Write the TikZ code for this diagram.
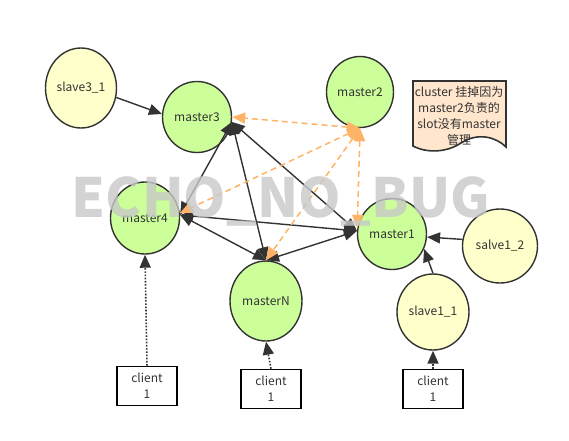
\documentclass[tikz,border=0pt]{standalone}
\usepackage{fontspec}
\setmainfont{Noto Sans CJK SC}
\usetikzlibrary{shapes.geometric,arrows.meta}
\definecolor{mgreen}{HTML}{CCFF99}
\definecolor{syellow}{HTML}{FFFFCC}
\definecolor{notefill}{HTML}{FFE6CC}
\definecolor{linegray}{HTML}{333333}
\definecolor{failorange}{HTML}{FFB366}
\definecolor{markgray}{HTML}{C8C8C8}

\begin{document}
\begin{tikzpicture}[x=1pt,y=-1pt,font=\fontsize{12}{14}\selectfont,
  head/.tip={Triangle[length=13pt,width=11pt]},
  master/.style={ellipse,draw=linegray,line width=1.4pt,fill=mgreen,minimum width=69pt,minimum height=71pt,inner sep=0pt,text=linegray},
  slave/.style={master,fill=syellow},
  client/.style={rectangle,draw=black,line width=1.6pt,fill=white,minimum width=60pt,minimum height=39pt,align=center,inner sep=0pt,font=\fontsize{12}{16}\selectfont,text=linegray},
  link/.style={head-head,draw=linegray,line width=1.4pt},
  fail/.style={head-head,draw=failorange,line width=1.5pt,dash pattern=on 6pt off 4pt},
  feed/.style={-head,draw=linegray,line width=1.4pt},
  req/.style={-head,draw=linegray,line width=1.6pt,dash pattern=on 1.6pt off 1.6pt}]
\useasboundingbox (0,0) rectangle (569,440);
% nodes
\node[slave,minimum width=71pt,minimum height=80pt] (s31) at (81,88) {slave3\_1};
\node[master] (m3) at (197,117) {master3};
\node[master,minimum width=67pt] (m2) at (360,92) {master2};
\node[master,minimum height=72pt] (m4) at (145,218) {master4};
\node[master] (m1) at (392,234) {master1};
\node[slave,minimum width=75pt,minimum height=74pt] (s12) at (500,246) {salve1\_2};
\node[master,minimum width=72pt,minimum height=80pt] (mN) at (266,301) {masterN};
\node[slave,minimum width=72pt,minimum height=76pt] (s11) at (433,312) {slave1\_1};
\node[client] (c4) at (147,386) {client\\1};
\node[client] (cN) at (271,389) {client\\1};
\node[client] (c1) at (433,389) {client\\1};
% note
\draw[draw=linegray,line width=1.6pt,fill=notefill] (413,81) -- (506,81) -- (506,147)
  .. controls (496,137) and (478,132) .. (461,143)
  .. controls (446,153) and (426,153) .. (413,146) -- cycle;
\node[align=center,font=\fontsize{12}{16}\selectfont,text=linegray] (note) at (459,116) {cluster 挂掉因为\\master2负责的\\slot没有master\\管理};
% masters mesh
\draw[link] (m3.-8) -- (m4.5);
\draw[link] (m3.-8) -- (mN.north);
\draw[link] (m3.-8) -- (m1.175);
\draw[link] (m4.5) -- (mN.north);
\draw[link] (m4.5) -- (m1.175);
\draw[link] (mN.north) -- (m1.175);
% lost master2
\draw[fail] (m2.south) -- (m3.east);
\draw[fail] (m2.south) -- (m4.8);
\draw[fail] (m2.south) -- (mN.north);
\draw[fail] (m2.south) -- (m1.170);
% slaves
\draw[feed] (s31.-15) -- (m3.175);
\draw[feed] (s11.north) -- (m1.-25);
\draw[feed] (s12.170) -- (m1.-5);
% clients
\draw[req] (c4.north) -- (m4.south);
\draw[req] (cN.north) -- (mN.south);
\draw[req] (c1.north) -- (s11.south);
% watermark
\node[anchor=base,text=markgray,opacity=0.8,font=\bfseries\fontsize{54}{54}\selectfont] (mark) at (281,217) {ECHO\_NO\_BUG};
\end{tikzpicture}
\end{document}
